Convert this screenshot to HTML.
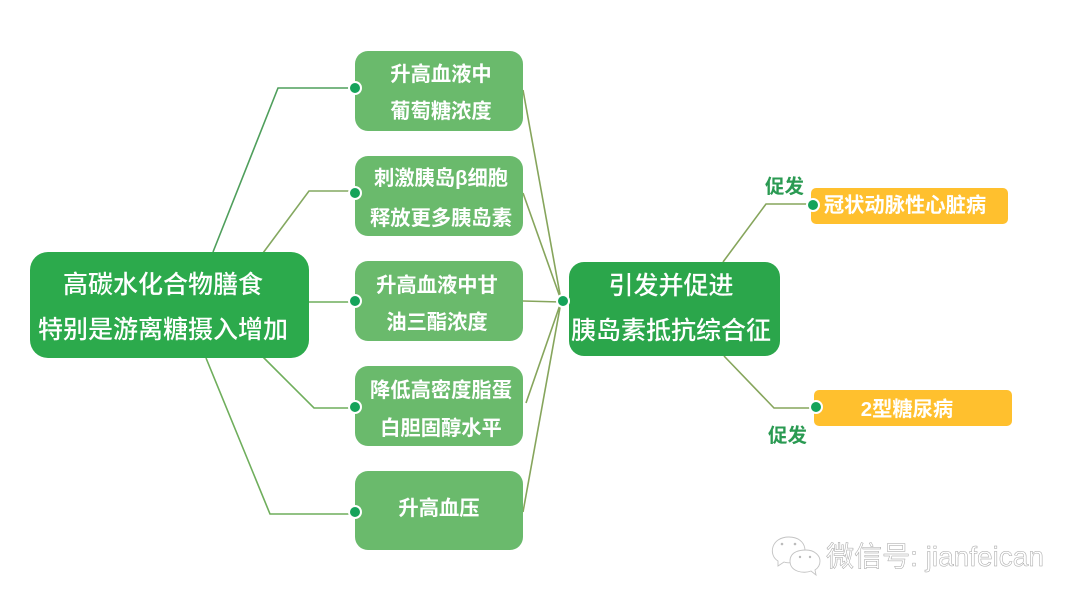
<!DOCTYPE html>
<html><head><meta charset="utf-8"><style>
html,body{margin:0;padding:0;background:#fff}
svg{display:block}
text{font-family:"Liberation Sans","Noto Sans CJK SC",sans-serif;text-anchor:middle}
.b{fill:#fff;font-weight:700;font-size:20.3px}
.m{fill:#fff;font-weight:500;font-size:25px}
.o{fill:#fff;font-weight:700;font-size:20.3px}
.l{fill:#2a9a52;font-weight:700;font-size:19.5px}
</style></head><body>
<svg width="1080" height="608" viewBox="0 0 1080 608" xmlns="http://www.w3.org/2000/svg">
<rect width="1080" height="608" fill="#fff"/>
<g fill="none" stroke="#6fae5c" stroke-width="1.6">
<path d="M213 252L278 88H355" stroke="#4f9f5c"/>
<path d="M263 253L309 191H355" stroke="#84a860"/>
<path d="M308 302H355"/>
<path d="M262 356L314 408H355"/>
<path d="M206 358L270 514H355"/>
<path d="M523 90L561 300" stroke="#86a55c"/>
<path d="M523 193L561 300" stroke="#86a55c"/>
<path d="M523 301L561 302" stroke="#86a55c"/>
<path d="M526 403L561 302" stroke="#86a55c"/>
<path d="M523 512L561 302" stroke="#86a55c"/>
<path d="M723 262L766 204H812" stroke="#86a55c"/>
<path d="M724 356L774 408H815" stroke="#86a55c"/>
</g>
<rect x="30" y="252" width="279" height="106" rx="18" fill="#2caa4c"/>
<rect x="569" y="262" width="211" height="94" rx="15" fill="#2ba64b"/>
<g fill="#6aba6c">
<rect x="355" y="51" width="168" height="80" rx="13"/>
<rect x="355" y="156" width="168" height="80" rx="13"/>
<rect x="355" y="261" width="168" height="80" rx="13"/>
<rect x="355" y="366" width="168" height="80" rx="13"/>
<rect x="355" y="471" width="168" height="79" rx="13"/>
</g>
<rect x="811" y="188" width="197" height="36" rx="5" fill="#ffc02e"/>
<rect x="814" y="390" width="198" height="36" rx="5" fill="#ffc02e"/>
<g fill="#15a35a" stroke="#fff" stroke-width="2">
<circle cx="355" cy="88" r="6"/><circle cx="355" cy="193" r="6"/><circle cx="355" cy="301" r="6"/>
<circle cx="355" cy="407" r="6"/><circle cx="355" cy="512" r="6"/><circle cx="563" cy="301" r="6"/>
<circle cx="813" cy="205" r="6"/><circle cx="816" cy="407" r="6"/>
</g>
<text class="m" x="163" y="293">高碳水化合物膳食</text>
<text class="m" x="163" y="338">特别是游离糖摄入增加</text>
<text class="m" x="671" y="294">引发并促进</text>
<text class="m" x="671" y="339">胰岛素抵抗综合征</text>
<text class="b" x="441" y="81">升高血液中</text>
<text class="b" x="441" y="118">葡萄糖浓度</text>
<text class="b" x="441" y="185">刺激胰岛β细胞</text>
<text class="b" x="441" y="225">释放更多胰岛素</text>
<text class="b" x="437" y="292">升高血液中甘</text>
<text class="b" x="437" y="329">油三酯浓度</text>
<text class="b" x="441" y="397">降低高密度脂蛋</text>
<text class="b" x="441" y="435">白胆固醇水平</text>
<text class="b" x="439" y="515">升高血压</text>
<text class="o" x="905" y="212">冠状动脉性心脏病</text>
<text class="o" x="907" y="416" style="font-size:20.3px">2型糖尿病</text>
<text class="l" x="784.5" y="193">促发</text>
<text class="l" x="787.5" y="442">促发</text>
<g fill="#fff" stroke="#c4c4c4" stroke-width="0.9">
<path d="M778 561C768 555 771 537 789 537C808 537 810 558 795 562C790 563 786 563 784 562L778 566Z"/>
<path d="M811 571C804 574 790 572 790 561C790 551 801 550 806 550C815 550 820 556 820 561C820 565 818 568 815 570L816 575Z"/>
</g>
<g fill="#bbb">
<circle cx="782" cy="544" r="1.3"/><circle cx="795" cy="544" r="1.3"/>
<circle cx="800" cy="557" r="1.2"/><circle cx="810" cy="557" r="1.2"/>
</g>
<text x="935" y="566" fill="#fff" stroke="#a4a4a4" stroke-width=".5" style="font-size:28px">微信号: jianfeican</text>
</svg>
</body></html>
